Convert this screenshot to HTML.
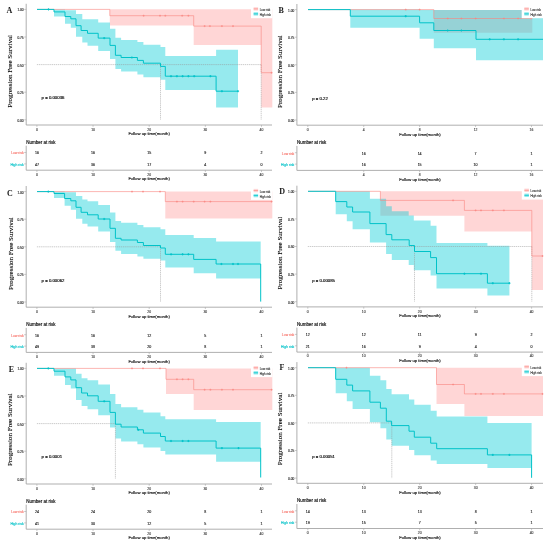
<!DOCTYPE html><html><head><meta charset="utf-8"><style>html,body{margin:0;padding:0;background:#fff;width:550px;height:544px;overflow:hidden}svg{display:block;filter:blur(0.3px)}</style></head><body>
<svg width="550" height="544" viewBox="0 0 550 544">
<rect width="550" height="544" fill="#fff"/>
<g>
<path d="M109.8 9.2 H193.7 V9.2 H261.2 V9.2 H272.3 V107.4 H261.2 V45 H193.7 V25.4 H109.8 Z" fill="rgba(255,120,120,0.30)"/>
<path d="M54 9.4 H65 V10.3 H70.8 V10.3 H76 V13.9 H82.3 V19.3 H87.5 V19.3 H98.2 V22.5 H110 V28.8 H115.4 V37.7 H121.1 V40 H137.4 V41.9 H143.4 V44.7 H160.5 V47 H165.3 V56.1 H216.1 V49.7 H238 V107.4 H216.1 V90.1 H165.3 V79.7 H160.5 V77.2 H143.4 V74.6 H137.4 V71.5 H121.1 V68.9 H115.4 V59.1 H110 V51.1 H98.2 V45.7 H87.5 V42.5 H82.3 V36.7 H76 V27.7 H70.8 V23.8 H65 V16.5 H54 Z" fill="rgba(0,204,214,0.41)"/>
<line x1="36.9" y1="64.6" x2="261.2" y2="64.6" stroke="#999" stroke-width="0.5" stroke-dasharray="1.4,0.7"/>
<line x1="160.5" y1="64.6" x2="160.5" y2="119.8" stroke="#999" stroke-width="0.5" stroke-dasharray="1.4,0.7"/>
<line x1="261.2" y1="64.6" x2="261.2" y2="119.8" stroke="#999" stroke-width="0.5" stroke-dasharray="1.4,0.7"/>
<path d="M37 9.4 H109.8 V15.7 H193.7 V26.1 H261.2 V72.7 H272.3" fill="none" stroke="#F9857F" stroke-width="0.6"/>
<path d="M37 9.4 H54 V11.9 H65 V16.5 H70.8 V18.8 H76 V25.7 H81.1 V30.5 H87.5 V33.3 H98.2 V38.1 H110 V45.4 H115.4 V55.3 H121.1 V57.5 H137.4 V60.4 H143.4 V63.2 H160.5 V66.4 H165.3 V76.2 H216.1 V91.2 H238" fill="none" stroke="#00C2C8" stroke-width="1.0"/>
<path d="M142.6 15.7H144.6M143.6 14.7V16.7" stroke="#F9857F" stroke-width="0.6"/>
<path d="M159 15.7H161M160 14.7V16.7" stroke="#F9857F" stroke-width="0.6"/>
<path d="M164.3 15.7H166.3M165.3 14.7V16.7" stroke="#F9857F" stroke-width="0.6"/>
<path d="M181.2 15.7H183.2M182.2 14.7V16.7" stroke="#F9857F" stroke-width="0.6"/>
<path d="M187.4 15.7H189.4M188.4 14.7V16.7" stroke="#F9857F" stroke-width="0.6"/>
<path d="M203.6 26.1H205.6M204.6 25.1V27.1" stroke="#F9857F" stroke-width="0.6"/>
<path d="M208.9 26.1H210.9M209.9 25.1V27.1" stroke="#F9857F" stroke-width="0.6"/>
<path d="M220.9 26.1H222.9M221.9 25.1V27.1" stroke="#F9857F" stroke-width="0.6"/>
<path d="M232 26.1H234M233 25.1V27.1" stroke="#F9857F" stroke-width="0.6"/>
<path d="M270.5 72.7H272.5M271.5 71.7V73.7" stroke="#F9857F" stroke-width="0.6"/>
<path d="M47.4 9.4H49.6M48.5 8.3V10.5" stroke="#00C2C8" stroke-width="0.9"/>
<path d="M103.1 38.1H105.3M104.2 37V39.2" stroke="#00C2C8" stroke-width="0.9"/>
<path d="M130.8 57.5H133M131.9 56.4V58.6" stroke="#00C2C8" stroke-width="0.9"/>
<path d="M169.9 76.2H172.1M171 75.1V77.3" stroke="#00C2C8" stroke-width="0.9"/>
<path d="M175.8 76.2H178M176.9 75.1V77.3" stroke="#00C2C8" stroke-width="0.9"/>
<path d="M181.5 76.2H183.7M182.6 75.1V77.3" stroke="#00C2C8" stroke-width="0.9"/>
<path d="M187.3 76.2H189.5M188.4 75.1V77.3" stroke="#00C2C8" stroke-width="0.9"/>
<path d="M193.1 76.2H195.3M194.2 75.1V77.3" stroke="#00C2C8" stroke-width="0.9"/>
<path d="M209.3 76.2H211.5M210.4 75.1V77.3" stroke="#00C2C8" stroke-width="0.9"/>
<path d="M220.8 91.2H223M221.9 90.1V92.3" stroke="#00C2C8" stroke-width="0.9"/>
<path d="M236.9 91.2H239.1M238 90.1V92.3" stroke="#00C2C8" stroke-width="0.9"/>
<line x1="26.2" y1="3.8" x2="26.2" y2="125" stroke="#a6a6a6" stroke-width="0.9" />
<line x1="26.2" y1="125" x2="272" y2="125" stroke="#a6a6a6" stroke-width="0.9" />
<line x1="24.2" y1="9.4" x2="26.2" y2="9.4" stroke="#a6a6a6" stroke-width="0.6" />
<text x="23.6" y="10.3" font-size="3.2" text-anchor="end" dominant-baseline="central" fill="#222" font-family="Liberation Sans" stroke="#222" stroke-width="0.11" >1.00</text>
<line x1="24.2" y1="37" x2="26.2" y2="37" stroke="#a6a6a6" stroke-width="0.6" />
<text x="23.6" y="37.9" font-size="3.2" text-anchor="end" dominant-baseline="central" fill="#222" font-family="Liberation Sans" stroke="#222" stroke-width="0.11" >0.75</text>
<line x1="24.2" y1="64.6" x2="26.2" y2="64.6" stroke="#a6a6a6" stroke-width="0.6" />
<text x="23.6" y="65.5" font-size="3.2" text-anchor="end" dominant-baseline="central" fill="#222" font-family="Liberation Sans" stroke="#222" stroke-width="0.11" >0.50</text>
<line x1="24.2" y1="92.2" x2="26.2" y2="92.2" stroke="#a6a6a6" stroke-width="0.6" />
<text x="23.6" y="93.1" font-size="3.2" text-anchor="end" dominant-baseline="central" fill="#222" font-family="Liberation Sans" stroke="#222" stroke-width="0.11" >0.25</text>
<line x1="24.2" y1="119.8" x2="26.2" y2="119.8" stroke="#a6a6a6" stroke-width="0.6" />
<text x="23.6" y="120.7" font-size="3.2" text-anchor="end" dominant-baseline="central" fill="#222" font-family="Liberation Sans" stroke="#222" stroke-width="0.11" >0.00</text>
<line x1="36.9" y1="125" x2="36.9" y2="126.8" stroke="#a6a6a6" stroke-width="0.6" />
<text x="36.9" y="129.7" font-size="3.4" text-anchor="middle" dominant-baseline="central" fill="#444" font-family="Liberation Sans" stroke="#444" stroke-width="0.12" >0</text>
<line x1="93.05" y1="125" x2="93.05" y2="126.8" stroke="#a6a6a6" stroke-width="0.6" />
<text x="93.05" y="129.7" font-size="3.4" text-anchor="middle" dominant-baseline="central" fill="#444" font-family="Liberation Sans" stroke="#444" stroke-width="0.12" >10</text>
<line x1="149.2" y1="125" x2="149.2" y2="126.8" stroke="#a6a6a6" stroke-width="0.6" />
<text x="149.2" y="129.7" font-size="3.4" text-anchor="middle" dominant-baseline="central" fill="#444" font-family="Liberation Sans" stroke="#444" stroke-width="0.12" >20</text>
<line x1="205.35" y1="125" x2="205.35" y2="126.8" stroke="#a6a6a6" stroke-width="0.6" />
<text x="205.35" y="129.7" font-size="3.4" text-anchor="middle" dominant-baseline="central" fill="#444" font-family="Liberation Sans" stroke="#444" stroke-width="0.12" >30</text>
<line x1="261.5" y1="125" x2="261.5" y2="126.8" stroke="#a6a6a6" stroke-width="0.6" />
<text x="261.5" y="129.7" font-size="3.4" text-anchor="middle" dominant-baseline="central" fill="#444" font-family="Liberation Sans" stroke="#444" stroke-width="0.12" >40</text>
<text x="149.1" y="133.8" font-size="4.2" text-anchor="middle" dominant-baseline="central" fill="#111" font-family="Liberation Sans" stroke="#111" stroke-width="0.15" >Follow up time(month)</text>
<text x="6.5" y="10.8" font-size="8.0" text-anchor="start" dominant-baseline="central" fill="#1a1a1a" font-family="Liberation Serif" font-weight="bold">A</text>
<text x="0" y="0" transform="translate(10.3,71.3) rotate(-90)" font-size="7.0" text-anchor="middle" dominant-baseline="central" fill="#000" stroke="#000" stroke-width="0.1" font-family="Liberation Serif">Progression Free Survival</text>
<text x="41.6" y="97.9" font-size="4.3" text-anchor="start" dominant-baseline="central" fill="#000" font-family="Liberation Sans" stroke="#000" stroke-width="0.15" >p = 0.00036</text>
<rect x="251" y="3.5" width="21.4" height="14.7" fill="#fff"/>
<rect x="253.6" y="7.2" width="4.5" height="3.4" fill="rgba(255,120,120,0.30)"/>
<line x1="253.6" y1="8.9" x2="258.1" y2="8.9" stroke="#F8766D" stroke-width="0.6" />
<text x="259.7" y="9.8" font-size="2.9" text-anchor="start" dominant-baseline="central" fill="#333" font-family="Liberation Sans" stroke="#333" stroke-width="0.1" >Low risk</text>
<rect x="253.6" y="12.2" width="4.5" height="3.4" fill="rgba(0,204,214,0.41)"/>
<line x1="253.6" y1="13.9" x2="258.1" y2="13.9" stroke="#00C2C8" stroke-width="0.8" />
<text x="259.7" y="14.8" font-size="2.9" text-anchor="start" dominant-baseline="central" fill="#333" font-family="Liberation Sans" stroke="#333" stroke-width="0.1" >High risk</text>
<text x="26.2" y="142.4" font-size="4.5" text-anchor="start" dominant-baseline="central" fill="#111" font-family="Liberation Sans" stroke="#111" stroke-width="0.16" >Number at risk</text>
<line x1="26.2" y1="145.7" x2="26.2" y2="170.2" stroke="#a6a6a6" stroke-width="0.9" />
<line x1="26.2" y1="170.2" x2="272" y2="170.2" stroke="#a6a6a6" stroke-width="0.9" />
<line x1="24.2" y1="152.5" x2="26.2" y2="152.5" stroke="#a6a6a6" stroke-width="0.6" />
<text x="23.6" y="153.4" font-size="3.4" text-anchor="end" dominant-baseline="central" fill="#F8766D" font-family="Liberation Sans" stroke="#F8766D" stroke-width="0.12" >Low risk</text>
<line x1="24.2" y1="163.9" x2="26.2" y2="163.9" stroke="#a6a6a6" stroke-width="0.6" />
<text x="23.6" y="164.8" font-size="3.4" text-anchor="end" dominant-baseline="central" fill="#00C2C8" font-family="Liberation Sans" stroke="#00C2C8" stroke-width="0.12" >High risk</text>
<line x1="36.9" y1="170.2" x2="36.9" y2="172" stroke="#a6a6a6" stroke-width="0.6" />
<text x="36.9" y="174.5" font-size="3.4" text-anchor="middle" dominant-baseline="central" fill="#444" font-family="Liberation Sans" stroke="#444" stroke-width="0.12" >0</text>
<text x="36.9" y="153.4" font-size="3.6" text-anchor="middle" dominant-baseline="central" fill="#222" font-family="Liberation Sans" stroke="#222" stroke-width="0.13" >16</text>
<text x="36.9" y="164.8" font-size="3.6" text-anchor="middle" dominant-baseline="central" fill="#222" font-family="Liberation Sans" stroke="#222" stroke-width="0.13" >47</text>
<line x1="93.05" y1="170.2" x2="93.05" y2="172" stroke="#a6a6a6" stroke-width="0.6" />
<text x="93.05" y="174.5" font-size="3.4" text-anchor="middle" dominant-baseline="central" fill="#444" font-family="Liberation Sans" stroke="#444" stroke-width="0.12" >10</text>
<text x="93.05" y="153.4" font-size="3.6" text-anchor="middle" dominant-baseline="central" fill="#222" font-family="Liberation Sans" stroke="#222" stroke-width="0.13" >16</text>
<text x="93.05" y="164.8" font-size="3.6" text-anchor="middle" dominant-baseline="central" fill="#222" font-family="Liberation Sans" stroke="#222" stroke-width="0.13" >36</text>
<line x1="149.2" y1="170.2" x2="149.2" y2="172" stroke="#a6a6a6" stroke-width="0.6" />
<text x="149.2" y="174.5" font-size="3.4" text-anchor="middle" dominant-baseline="central" fill="#444" font-family="Liberation Sans" stroke="#444" stroke-width="0.12" >20</text>
<text x="149.2" y="153.4" font-size="3.6" text-anchor="middle" dominant-baseline="central" fill="#222" font-family="Liberation Sans" stroke="#222" stroke-width="0.13" >15</text>
<text x="149.2" y="164.8" font-size="3.6" text-anchor="middle" dominant-baseline="central" fill="#222" font-family="Liberation Sans" stroke="#222" stroke-width="0.13" >17</text>
<line x1="205.35" y1="170.2" x2="205.35" y2="172" stroke="#a6a6a6" stroke-width="0.6" />
<text x="205.35" y="174.5" font-size="3.4" text-anchor="middle" dominant-baseline="central" fill="#444" font-family="Liberation Sans" stroke="#444" stroke-width="0.12" >30</text>
<text x="205.35" y="153.4" font-size="3.6" text-anchor="middle" dominant-baseline="central" fill="#222" font-family="Liberation Sans" stroke="#222" stroke-width="0.13" >9</text>
<text x="205.35" y="164.8" font-size="3.6" text-anchor="middle" dominant-baseline="central" fill="#222" font-family="Liberation Sans" stroke="#222" stroke-width="0.13" >4</text>
<line x1="261.5" y1="170.2" x2="261.5" y2="172" stroke="#a6a6a6" stroke-width="0.6" />
<text x="261.5" y="174.5" font-size="3.4" text-anchor="middle" dominant-baseline="central" fill="#444" font-family="Liberation Sans" stroke="#444" stroke-width="0.12" >40</text>
<text x="261.5" y="153.4" font-size="3.6" text-anchor="middle" dominant-baseline="central" fill="#222" font-family="Liberation Sans" stroke="#222" stroke-width="0.13" >2</text>
<text x="261.5" y="164.8" font-size="3.6" text-anchor="middle" dominant-baseline="central" fill="#222" font-family="Liberation Sans" stroke="#222" stroke-width="0.13" >0</text>
<text x="149.1" y="178.8" font-size="4.2" text-anchor="middle" dominant-baseline="central" fill="#111" font-family="Liberation Sans" stroke="#111" stroke-width="0.15" >Follow up time(month)</text>
</g>
<g>
<path d="M433.8 9.9 H532.3 V32.7 H433.8 Z" fill="rgba(255,120,120,0.30)"/>
<path d="M350.3 9.6 H419.6 V9.9 H433.8 V9.9 H476 V9.9 H543 V60.3 H476 V48.2 H433.8 V38.8 H419.6 V27.7 H350.3 Z" fill="rgba(0,204,214,0.41)"/>
<path d="M308 9.6 H433.8 V18.5 H532.3" fill="none" stroke="#F9857F" stroke-width="0.6"/>
<path d="M308 9.6 H350.3 V16.2 H419.6 V22.8 H433.8 V30.5 H476 V39.3 H543" fill="none" stroke="#00C2C8" stroke-width="1.0"/>
<path d="M404.7 9.6H406.7M405.7 8.6V10.6" stroke="#F9857F" stroke-width="0.6"/>
<path d="M418.6 9.6H420.6M419.6 8.6V10.6" stroke="#F9857F" stroke-width="0.6"/>
<path d="M446.7 18.5H448.7M447.7 17.5V19.5" stroke="#F9857F" stroke-width="0.6"/>
<path d="M460.4 18.5H462.4M461.4 17.5V19.5" stroke="#F9857F" stroke-width="0.6"/>
<path d="M474.6 18.5H476.6M475.6 17.5V19.5" stroke="#F9857F" stroke-width="0.6"/>
<path d="M502.9 18.5H504.9M503.9 17.5V19.5" stroke="#F9857F" stroke-width="0.6"/>
<path d="M517.1 18.5H519.1M518.1 17.5V19.5" stroke="#F9857F" stroke-width="0.6"/>
<path d="M530.1 18.5H532.1M531.1 17.5V19.5" stroke="#F9857F" stroke-width="0.6"/>
<path d="M404.6 16.2H406.8M405.7 15.1V17.3" stroke="#00C2C8" stroke-width="0.9"/>
<path d="M446.6 30.5H448.8M447.7 29.4V31.6" stroke="#00C2C8" stroke-width="0.9"/>
<path d="M460.3 30.5H462.5M461.4 29.4V31.6" stroke="#00C2C8" stroke-width="0.9"/>
<path d="M488.6 39.3H490.8M489.7 38.2V40.4" stroke="#00C2C8" stroke-width="0.9"/>
<path d="M502.8 39.3H505M503.9 38.2V40.4" stroke="#00C2C8" stroke-width="0.9"/>
<path d="M517 39.3H519.2M518.1 38.2V40.4" stroke="#00C2C8" stroke-width="0.9"/>
<line x1="296.9" y1="4" x2="296.9" y2="125.2" stroke="#a6a6a6" stroke-width="0.9" />
<line x1="296.9" y1="125.2" x2="543" y2="125.2" stroke="#a6a6a6" stroke-width="0.9" />
<line x1="294.9" y1="9.6" x2="296.9" y2="9.6" stroke="#a6a6a6" stroke-width="0.6" />
<text x="294.3" y="10.5" font-size="3.2" text-anchor="end" dominant-baseline="central" fill="#222" font-family="Liberation Sans" stroke="#222" stroke-width="0.11" >1.00</text>
<line x1="294.9" y1="37.2" x2="296.9" y2="37.2" stroke="#a6a6a6" stroke-width="0.6" />
<text x="294.3" y="38.1" font-size="3.2" text-anchor="end" dominant-baseline="central" fill="#222" font-family="Liberation Sans" stroke="#222" stroke-width="0.11" >0.75</text>
<line x1="294.9" y1="64.8" x2="296.9" y2="64.8" stroke="#a6a6a6" stroke-width="0.6" />
<text x="294.3" y="65.7" font-size="3.2" text-anchor="end" dominant-baseline="central" fill="#222" font-family="Liberation Sans" stroke="#222" stroke-width="0.11" >0.50</text>
<line x1="294.9" y1="92.4" x2="296.9" y2="92.4" stroke="#a6a6a6" stroke-width="0.6" />
<text x="294.3" y="93.3" font-size="3.2" text-anchor="end" dominant-baseline="central" fill="#222" font-family="Liberation Sans" stroke="#222" stroke-width="0.11" >0.25</text>
<line x1="294.9" y1="120" x2="296.9" y2="120" stroke="#a6a6a6" stroke-width="0.6" />
<text x="294.3" y="120.9" font-size="3.2" text-anchor="end" dominant-baseline="central" fill="#222" font-family="Liberation Sans" stroke="#222" stroke-width="0.11" >0.00</text>
<line x1="307.8" y1="125.2" x2="307.8" y2="127" stroke="#a6a6a6" stroke-width="0.6" />
<text x="307.8" y="129.9" font-size="3.4" text-anchor="middle" dominant-baseline="central" fill="#444" font-family="Liberation Sans" stroke="#444" stroke-width="0.12" >0</text>
<line x1="363.72" y1="125.2" x2="363.72" y2="127" stroke="#a6a6a6" stroke-width="0.6" />
<text x="363.72" y="129.9" font-size="3.4" text-anchor="middle" dominant-baseline="central" fill="#444" font-family="Liberation Sans" stroke="#444" stroke-width="0.12" >4</text>
<line x1="419.64" y1="125.2" x2="419.64" y2="127" stroke="#a6a6a6" stroke-width="0.6" />
<text x="419.64" y="129.9" font-size="3.4" text-anchor="middle" dominant-baseline="central" fill="#444" font-family="Liberation Sans" stroke="#444" stroke-width="0.12" >8</text>
<line x1="475.56" y1="125.2" x2="475.56" y2="127" stroke="#a6a6a6" stroke-width="0.6" />
<text x="475.56" y="129.9" font-size="3.4" text-anchor="middle" dominant-baseline="central" fill="#444" font-family="Liberation Sans" stroke="#444" stroke-width="0.12" >12</text>
<line x1="531.48" y1="125.2" x2="531.48" y2="127" stroke="#a6a6a6" stroke-width="0.6" />
<text x="531.48" y="129.9" font-size="3.4" text-anchor="middle" dominant-baseline="central" fill="#444" font-family="Liberation Sans" stroke="#444" stroke-width="0.12" >16</text>
<text x="419.95" y="134" font-size="4.2" text-anchor="middle" dominant-baseline="central" fill="#111" font-family="Liberation Sans" stroke="#111" stroke-width="0.15" >Follow up time(month)</text>
<text x="278.5" y="10.55" font-size="8.0" text-anchor="start" dominant-baseline="central" fill="#1a1a1a" font-family="Liberation Serif" font-weight="bold">B</text>
<text x="0" y="0" transform="translate(280.1,71.6) rotate(-90)" font-size="7.0" text-anchor="middle" dominant-baseline="central" fill="#000" stroke="#000" stroke-width="0.1" font-family="Liberation Serif">Progression Free Survival</text>
<text x="312.2" y="98.5" font-size="4.3" text-anchor="start" dominant-baseline="central" fill="#000" font-family="Liberation Sans" stroke="#000" stroke-width="0.15" >p = 0.22</text>
<rect x="521.7" y="3.5" width="21.4" height="14.7" fill="#fff"/>
<rect x="524.3" y="7.2" width="4.5" height="3.4" fill="rgba(255,120,120,0.30)"/>
<line x1="524.3" y1="8.9" x2="528.8" y2="8.9" stroke="#F8766D" stroke-width="0.6" />
<text x="530.4" y="9.8" font-size="2.9" text-anchor="start" dominant-baseline="central" fill="#333" font-family="Liberation Sans" stroke="#333" stroke-width="0.1" >Low risk</text>
<rect x="524.3" y="12.2" width="4.5" height="3.4" fill="rgba(0,204,214,0.41)"/>
<line x1="524.3" y1="13.9" x2="528.8" y2="13.9" stroke="#00C2C8" stroke-width="0.8" />
<text x="530.4" y="14.8" font-size="2.9" text-anchor="start" dominant-baseline="central" fill="#333" font-family="Liberation Sans" stroke="#333" stroke-width="0.1" >High risk</text>
<text x="296.9" y="142.6" font-size="4.5" text-anchor="start" dominant-baseline="central" fill="#111" font-family="Liberation Sans" stroke="#111" stroke-width="0.16" >Number at risk</text>
<line x1="296.9" y1="145.9" x2="296.9" y2="170.4" stroke="#a6a6a6" stroke-width="0.9" />
<line x1="296.9" y1="170.4" x2="543" y2="170.4" stroke="#a6a6a6" stroke-width="0.9" />
<line x1="294.9" y1="152.7" x2="296.9" y2="152.7" stroke="#a6a6a6" stroke-width="0.6" />
<text x="294.3" y="153.6" font-size="3.4" text-anchor="end" dominant-baseline="central" fill="#F8766D" font-family="Liberation Sans" stroke="#F8766D" stroke-width="0.12" >Low risk</text>
<line x1="294.9" y1="164.1" x2="296.9" y2="164.1" stroke="#a6a6a6" stroke-width="0.6" />
<text x="294.3" y="165" font-size="3.4" text-anchor="end" dominant-baseline="central" fill="#00C2C8" font-family="Liberation Sans" stroke="#00C2C8" stroke-width="0.12" >High risk</text>
<line x1="363.72" y1="170.4" x2="363.72" y2="172.2" stroke="#a6a6a6" stroke-width="0.6" />
<text x="363.72" y="174.7" font-size="3.4" text-anchor="middle" dominant-baseline="central" fill="#444" font-family="Liberation Sans" stroke="#444" stroke-width="0.12" >4</text>
<text x="363.72" y="153.6" font-size="3.6" text-anchor="middle" dominant-baseline="central" fill="#222" font-family="Liberation Sans" stroke="#222" stroke-width="0.13" >16</text>
<text x="363.72" y="165" font-size="3.6" text-anchor="middle" dominant-baseline="central" fill="#222" font-family="Liberation Sans" stroke="#222" stroke-width="0.13" >16</text>
<line x1="419.64" y1="170.4" x2="419.64" y2="172.2" stroke="#a6a6a6" stroke-width="0.6" />
<text x="419.64" y="174.7" font-size="3.4" text-anchor="middle" dominant-baseline="central" fill="#444" font-family="Liberation Sans" stroke="#444" stroke-width="0.12" >8</text>
<text x="419.64" y="153.6" font-size="3.6" text-anchor="middle" dominant-baseline="central" fill="#222" font-family="Liberation Sans" stroke="#222" stroke-width="0.13" >14</text>
<text x="419.64" y="165" font-size="3.6" text-anchor="middle" dominant-baseline="central" fill="#222" font-family="Liberation Sans" stroke="#222" stroke-width="0.13" >15</text>
<line x1="475.56" y1="170.4" x2="475.56" y2="172.2" stroke="#a6a6a6" stroke-width="0.6" />
<text x="475.56" y="174.7" font-size="3.4" text-anchor="middle" dominant-baseline="central" fill="#444" font-family="Liberation Sans" stroke="#444" stroke-width="0.12" >12</text>
<text x="475.56" y="153.6" font-size="3.6" text-anchor="middle" dominant-baseline="central" fill="#222" font-family="Liberation Sans" stroke="#222" stroke-width="0.13" >7</text>
<text x="475.56" y="165" font-size="3.6" text-anchor="middle" dominant-baseline="central" fill="#222" font-family="Liberation Sans" stroke="#222" stroke-width="0.13" >10</text>
<line x1="531.48" y1="170.4" x2="531.48" y2="172.2" stroke="#a6a6a6" stroke-width="0.6" />
<text x="531.48" y="174.7" font-size="3.4" text-anchor="middle" dominant-baseline="central" fill="#444" font-family="Liberation Sans" stroke="#444" stroke-width="0.12" >16</text>
<text x="531.48" y="153.6" font-size="3.6" text-anchor="middle" dominant-baseline="central" fill="#222" font-family="Liberation Sans" stroke="#222" stroke-width="0.13" >1</text>
<text x="531.48" y="165" font-size="3.6" text-anchor="middle" dominant-baseline="central" fill="#222" font-family="Liberation Sans" stroke="#222" stroke-width="0.13" >1</text>
<text x="419.95" y="179" font-size="4.2" text-anchor="middle" dominant-baseline="central" fill="#111" font-family="Liberation Sans" stroke="#111" stroke-width="0.15" >Follow up time(month)</text>
</g>
<g>
<path d="M165.3 191.6 H272.3 V218.5 H165.3 Z" fill="rgba(255,120,120,0.30)"/>
<path d="M54 191.6 H64.6 V192.3 H70.8 V192.3 H76 V195.9 H82.3 V199.4 H87.5 V201.3 H98.2 V204.9 H110 V212.4 H115.4 V220.9 H121.1 V222.8 H137.4 V225.1 H143.4 V227.3 H160.5 V229.2 H165.3 V235.1 H193.7 V238.1 H216.1 V241.6 H260.7 V278.5 H216.1 V273.2 H193.7 V267.5 H165.3 V260.5 H160.5 V258.7 H143.4 V256.5 H137.4 V254 H121.1 V250.8 H115.4 V241.9 H110 V231.5 H98.2 V226.4 H87.5 V223.8 H82.3 V218.7 H76 V209.7 H70.8 V205.8 H64.6 V198.1 H54 Z" fill="rgba(0,204,214,0.41)"/>
<line x1="36.9" y1="246.8" x2="160.5" y2="246.8" stroke="#999" stroke-width="0.5" stroke-dasharray="1.4,0.7"/>
<line x1="160.5" y1="246.8" x2="160.5" y2="302" stroke="#999" stroke-width="0.5" stroke-dasharray="1.4,0.7"/>
<path d="M37 191.6 H165.3 V201.6 H272.3" fill="none" stroke="#F9857F" stroke-width="0.6"/>
<path d="M37 191.6 H54 V193.5 H64.6 V198.5 H70.8 V200.8 H76 V207.3 H81.1 V212.3 H87.5 V214.8 H98.2 V219 H110 V228.3 H115.4 V238.3 H121.1 V240 H137.4 V242.5 H143.4 V245.5 H160.5 V248 H165.3 V254.3 H193.7 V259.4 H216.1 V264 H260.7 V301.6 H260.7" fill="none" stroke="#00C2C8" stroke-width="1.0"/>
<path d="M131 191.6H133M132 190.6V192.6" stroke="#F9857F" stroke-width="0.6"/>
<path d="M142 191.6H144M143 190.6V192.6" stroke="#F9857F" stroke-width="0.6"/>
<path d="M159 191.6H161M160 190.6V192.6" stroke="#F9857F" stroke-width="0.6"/>
<path d="M175.9 201.6H177.9M176.9 200.6V202.6" stroke="#F9857F" stroke-width="0.6"/>
<path d="M181.6 201.6H183.6M182.6 200.6V202.6" stroke="#F9857F" stroke-width="0.6"/>
<path d="M192.7 201.6H194.7M193.7 200.6V202.6" stroke="#F9857F" stroke-width="0.6"/>
<path d="M203.6 201.6H205.6M204.6 200.6V202.6" stroke="#F9857F" stroke-width="0.6"/>
<path d="M209.4 201.6H211.4M210.4 200.6V202.6" stroke="#F9857F" stroke-width="0.6"/>
<path d="M270.5 201.6H272.5M271.5 200.6V202.6" stroke="#F9857F" stroke-width="0.6"/>
<path d="M47.2 191.6H49.4M48.3 190.5V192.7" stroke="#00C2C8" stroke-width="0.9"/>
<path d="M103.1 219H105.3M104.2 217.9V220.1" stroke="#00C2C8" stroke-width="0.9"/>
<path d="M170 254.3H172.2M171.1 253.2V255.4" stroke="#00C2C8" stroke-width="0.9"/>
<path d="M181.5 254.3H183.7M182.6 253.2V255.4" stroke="#00C2C8" stroke-width="0.9"/>
<path d="M187.3 254.3H189.5M188.4 253.2V255.4" stroke="#00C2C8" stroke-width="0.9"/>
<path d="M220.3 264H222.5M221.4 262.9V265.1" stroke="#00C2C8" stroke-width="0.9"/>
<path d="M231.9 264H234.1M233 262.9V265.1" stroke="#00C2C8" stroke-width="0.9"/>
<path d="M236.9 264H239.1M238 262.9V265.1" stroke="#00C2C8" stroke-width="0.9"/>
<line x1="26.2" y1="186" x2="26.2" y2="307.2" stroke="#a6a6a6" stroke-width="0.9" />
<line x1="26.2" y1="307.2" x2="272" y2="307.2" stroke="#a6a6a6" stroke-width="0.9" />
<line x1="24.2" y1="191.6" x2="26.2" y2="191.6" stroke="#a6a6a6" stroke-width="0.6" />
<text x="23.6" y="192.5" font-size="3.2" text-anchor="end" dominant-baseline="central" fill="#222" font-family="Liberation Sans" stroke="#222" stroke-width="0.11" >1.00</text>
<line x1="24.2" y1="219.2" x2="26.2" y2="219.2" stroke="#a6a6a6" stroke-width="0.6" />
<text x="23.6" y="220.1" font-size="3.2" text-anchor="end" dominant-baseline="central" fill="#222" font-family="Liberation Sans" stroke="#222" stroke-width="0.11" >0.75</text>
<line x1="24.2" y1="246.8" x2="26.2" y2="246.8" stroke="#a6a6a6" stroke-width="0.6" />
<text x="23.6" y="247.7" font-size="3.2" text-anchor="end" dominant-baseline="central" fill="#222" font-family="Liberation Sans" stroke="#222" stroke-width="0.11" >0.50</text>
<line x1="24.2" y1="274.4" x2="26.2" y2="274.4" stroke="#a6a6a6" stroke-width="0.6" />
<text x="23.6" y="275.3" font-size="3.2" text-anchor="end" dominant-baseline="central" fill="#222" font-family="Liberation Sans" stroke="#222" stroke-width="0.11" >0.25</text>
<line x1="24.2" y1="302" x2="26.2" y2="302" stroke="#a6a6a6" stroke-width="0.6" />
<text x="23.6" y="302.9" font-size="3.2" text-anchor="end" dominant-baseline="central" fill="#222" font-family="Liberation Sans" stroke="#222" stroke-width="0.11" >0.00</text>
<line x1="36.9" y1="307.2" x2="36.9" y2="309" stroke="#a6a6a6" stroke-width="0.6" />
<text x="36.9" y="311.9" font-size="3.4" text-anchor="middle" dominant-baseline="central" fill="#444" font-family="Liberation Sans" stroke="#444" stroke-width="0.12" >0</text>
<line x1="93.05" y1="307.2" x2="93.05" y2="309" stroke="#a6a6a6" stroke-width="0.6" />
<text x="93.05" y="311.9" font-size="3.4" text-anchor="middle" dominant-baseline="central" fill="#444" font-family="Liberation Sans" stroke="#444" stroke-width="0.12" >10</text>
<line x1="149.2" y1="307.2" x2="149.2" y2="309" stroke="#a6a6a6" stroke-width="0.6" />
<text x="149.2" y="311.9" font-size="3.4" text-anchor="middle" dominant-baseline="central" fill="#444" font-family="Liberation Sans" stroke="#444" stroke-width="0.12" >20</text>
<line x1="205.35" y1="307.2" x2="205.35" y2="309" stroke="#a6a6a6" stroke-width="0.6" />
<text x="205.35" y="311.9" font-size="3.4" text-anchor="middle" dominant-baseline="central" fill="#444" font-family="Liberation Sans" stroke="#444" stroke-width="0.12" >30</text>
<line x1="261.5" y1="307.2" x2="261.5" y2="309" stroke="#a6a6a6" stroke-width="0.6" />
<text x="261.5" y="311.9" font-size="3.4" text-anchor="middle" dominant-baseline="central" fill="#444" font-family="Liberation Sans" stroke="#444" stroke-width="0.12" >40</text>
<text x="149.1" y="316" font-size="4.2" text-anchor="middle" dominant-baseline="central" fill="#111" font-family="Liberation Sans" stroke="#111" stroke-width="0.15" >Follow up time(month)</text>
<text x="6.9" y="193.5" font-size="8.0" text-anchor="start" dominant-baseline="central" fill="#1a1a1a" font-family="Liberation Serif" font-weight="bold">C</text>
<text x="0" y="0" transform="translate(10.8,253.6) rotate(-90)" font-size="7.0" text-anchor="middle" dominant-baseline="central" fill="#000" stroke="#000" stroke-width="0.1" font-family="Liberation Serif">Progression Free Survival</text>
<text x="41.6" y="280.6" font-size="4.3" text-anchor="start" dominant-baseline="central" fill="#000" font-family="Liberation Sans" stroke="#000" stroke-width="0.15" >p = 0.00062</text>
<rect x="251" y="185.2" width="21.4" height="14.7" fill="#fff"/>
<rect x="253.6" y="188.9" width="4.5" height="3.4" fill="rgba(255,120,120,0.30)"/>
<line x1="253.6" y1="190.6" x2="258.1" y2="190.6" stroke="#F8766D" stroke-width="0.6" />
<text x="259.7" y="191.5" font-size="2.9" text-anchor="start" dominant-baseline="central" fill="#333" font-family="Liberation Sans" stroke="#333" stroke-width="0.1" >Low risk</text>
<rect x="253.6" y="193.9" width="4.5" height="3.4" fill="rgba(0,204,214,0.41)"/>
<line x1="253.6" y1="195.6" x2="258.1" y2="195.6" stroke="#00C2C8" stroke-width="0.8" />
<text x="259.7" y="196.5" font-size="2.9" text-anchor="start" dominant-baseline="central" fill="#333" font-family="Liberation Sans" stroke="#333" stroke-width="0.1" >High risk</text>
<text x="26.2" y="324.6" font-size="4.5" text-anchor="start" dominant-baseline="central" fill="#111" font-family="Liberation Sans" stroke="#111" stroke-width="0.16" >Number at risk</text>
<line x1="26.2" y1="327.9" x2="26.2" y2="352.4" stroke="#a6a6a6" stroke-width="0.9" />
<line x1="26.2" y1="352.4" x2="272" y2="352.4" stroke="#a6a6a6" stroke-width="0.9" />
<line x1="24.2" y1="334.7" x2="26.2" y2="334.7" stroke="#a6a6a6" stroke-width="0.6" />
<text x="23.6" y="335.6" font-size="3.4" text-anchor="end" dominant-baseline="central" fill="#F8766D" font-family="Liberation Sans" stroke="#F8766D" stroke-width="0.12" >Low risk</text>
<line x1="24.2" y1="346.1" x2="26.2" y2="346.1" stroke="#a6a6a6" stroke-width="0.6" />
<text x="23.6" y="347" font-size="3.4" text-anchor="end" dominant-baseline="central" fill="#00C2C8" font-family="Liberation Sans" stroke="#00C2C8" stroke-width="0.12" >High risk</text>
<line x1="36.9" y1="352.4" x2="36.9" y2="354.2" stroke="#a6a6a6" stroke-width="0.6" />
<text x="36.9" y="356.7" font-size="3.4" text-anchor="middle" dominant-baseline="central" fill="#444" font-family="Liberation Sans" stroke="#444" stroke-width="0.12" >0</text>
<text x="36.9" y="335.6" font-size="3.6" text-anchor="middle" dominant-baseline="central" fill="#222" font-family="Liberation Sans" stroke="#222" stroke-width="0.13" >16</text>
<text x="36.9" y="347" font-size="3.6" text-anchor="middle" dominant-baseline="central" fill="#222" font-family="Liberation Sans" stroke="#222" stroke-width="0.13" >49</text>
<line x1="93.05" y1="352.4" x2="93.05" y2="354.2" stroke="#a6a6a6" stroke-width="0.6" />
<text x="93.05" y="356.7" font-size="3.4" text-anchor="middle" dominant-baseline="central" fill="#444" font-family="Liberation Sans" stroke="#444" stroke-width="0.12" >10</text>
<text x="93.05" y="335.6" font-size="3.6" text-anchor="middle" dominant-baseline="central" fill="#222" font-family="Liberation Sans" stroke="#222" stroke-width="0.13" >16</text>
<text x="93.05" y="347" font-size="3.6" text-anchor="middle" dominant-baseline="central" fill="#222" font-family="Liberation Sans" stroke="#222" stroke-width="0.13" >38</text>
<line x1="149.2" y1="352.4" x2="149.2" y2="354.2" stroke="#a6a6a6" stroke-width="0.6" />
<text x="149.2" y="356.7" font-size="3.4" text-anchor="middle" dominant-baseline="central" fill="#444" font-family="Liberation Sans" stroke="#444" stroke-width="0.12" >20</text>
<text x="149.2" y="335.6" font-size="3.6" text-anchor="middle" dominant-baseline="central" fill="#222" font-family="Liberation Sans" stroke="#222" stroke-width="0.13" >12</text>
<text x="149.2" y="347" font-size="3.6" text-anchor="middle" dominant-baseline="central" fill="#222" font-family="Liberation Sans" stroke="#222" stroke-width="0.13" >20</text>
<line x1="205.35" y1="352.4" x2="205.35" y2="354.2" stroke="#a6a6a6" stroke-width="0.6" />
<text x="205.35" y="356.7" font-size="3.4" text-anchor="middle" dominant-baseline="central" fill="#444" font-family="Liberation Sans" stroke="#444" stroke-width="0.12" >30</text>
<text x="205.35" y="335.6" font-size="3.6" text-anchor="middle" dominant-baseline="central" fill="#222" font-family="Liberation Sans" stroke="#222" stroke-width="0.13" >5</text>
<text x="205.35" y="347" font-size="3.6" text-anchor="middle" dominant-baseline="central" fill="#222" font-family="Liberation Sans" stroke="#222" stroke-width="0.13" >8</text>
<line x1="261.5" y1="352.4" x2="261.5" y2="354.2" stroke="#a6a6a6" stroke-width="0.6" />
<text x="261.5" y="356.7" font-size="3.4" text-anchor="middle" dominant-baseline="central" fill="#444" font-family="Liberation Sans" stroke="#444" stroke-width="0.12" >40</text>
<text x="261.5" y="335.6" font-size="3.6" text-anchor="middle" dominant-baseline="central" fill="#222" font-family="Liberation Sans" stroke="#222" stroke-width="0.13" >1</text>
<text x="261.5" y="347" font-size="3.6" text-anchor="middle" dominant-baseline="central" fill="#222" font-family="Liberation Sans" stroke="#222" stroke-width="0.13" >1</text>
<text x="149.1" y="361" font-size="4.2" text-anchor="middle" dominant-baseline="central" fill="#111" font-family="Liberation Sans" stroke="#111" stroke-width="0.15" >Follow up time(month)</text>
</g>
<g>
<path d="M380.4 191.3 H464.4 V191.3 H531.8 V191.3 H543 V290 H531.8 V231.6 H464.4 V215.8 H380.4 Z" fill="rgba(255,120,120,0.30)"/>
<path d="M335.7 191.3 H346.8 V191.3 H352.6 V191.3 H369.9 V198.7 H386.1 V206.2 H391.8 V211.2 H408.7 V215.5 H413.8 V220.6 H430.6 V225.7 H436.5 V243 H487.4 V245.8 H509.4 V295.5 H487.4 V288.4 H436.5 V275.4 H430.6 V270.2 H413.8 V265.1 H408.7 V260 H391.8 V254 H386.1 V242.5 H369.9 V229.3 H352.6 V221.3 H346.8 V214.3 H335.7 Z" fill="rgba(0,204,214,0.41)"/>
<line x1="307.8" y1="246.5" x2="531.8" y2="246.5" stroke="#999" stroke-width="0.5" stroke-dasharray="1.4,0.7"/>
<line x1="414.5" y1="246.5" x2="414.5" y2="301.7" stroke="#999" stroke-width="0.5" stroke-dasharray="1.4,0.7"/>
<line x1="531.8" y1="246.5" x2="531.8" y2="301.7" stroke="#999" stroke-width="0.5" stroke-dasharray="1.4,0.7"/>
<path d="M308 191.3 H380.4 V200.4 H464.4 V210.4 H531.8 V256 H543" fill="none" stroke="#F9857F" stroke-width="0.6"/>
<path d="M308 191.3 H335.7 V201.6 H346.8 V207 H352.6 V212 H369.9 V223.6 H386.1 V234.6 H391.8 V239.8 H409.2 V245.5 H414.5 V251.5 H430.6 V257.6 H436.5 V273.7 H487.4 V283.2 H509.4" fill="none" stroke="#00C2C8" stroke-width="1.0"/>
<path d="M452.1 200.4H454.1M453.1 199.4V201.4" stroke="#F9857F" stroke-width="0.6"/>
<path d="M474.6 210.4H476.6M475.6 209.4V211.4" stroke="#F9857F" stroke-width="0.6"/>
<path d="M480 210.4H482M481 209.4V211.4" stroke="#F9857F" stroke-width="0.6"/>
<path d="M491.8 210.4H493.8M492.8 209.4V211.4" stroke="#F9857F" stroke-width="0.6"/>
<path d="M502.9 210.4H504.9M503.9 209.4V211.4" stroke="#F9857F" stroke-width="0.6"/>
<path d="M541.5 256H543.5M542.5 255V257" stroke="#F9857F" stroke-width="0.6"/>
<path d="M463.3 273.7H465.5M464.4 272.6V274.8" stroke="#00C2C8" stroke-width="0.9"/>
<path d="M479.9 273.7H482.1M481 272.6V274.8" stroke="#00C2C8" stroke-width="0.9"/>
<path d="M491.7 283.2H493.9M492.8 282.1V284.3" stroke="#00C2C8" stroke-width="0.9"/>
<path d="M508.3 283.2H510.5M509.4 282.1V284.3" stroke="#00C2C8" stroke-width="0.9"/>
<line x1="296.9" y1="185.7" x2="296.9" y2="306.9" stroke="#a6a6a6" stroke-width="0.9" />
<line x1="296.9" y1="306.9" x2="543" y2="306.9" stroke="#a6a6a6" stroke-width="0.9" />
<line x1="294.9" y1="191.3" x2="296.9" y2="191.3" stroke="#a6a6a6" stroke-width="0.6" />
<text x="294.3" y="192.2" font-size="3.2" text-anchor="end" dominant-baseline="central" fill="#222" font-family="Liberation Sans" stroke="#222" stroke-width="0.11" >1.00</text>
<line x1="294.9" y1="218.9" x2="296.9" y2="218.9" stroke="#a6a6a6" stroke-width="0.6" />
<text x="294.3" y="219.8" font-size="3.2" text-anchor="end" dominant-baseline="central" fill="#222" font-family="Liberation Sans" stroke="#222" stroke-width="0.11" >0.75</text>
<line x1="294.9" y1="246.5" x2="296.9" y2="246.5" stroke="#a6a6a6" stroke-width="0.6" />
<text x="294.3" y="247.4" font-size="3.2" text-anchor="end" dominant-baseline="central" fill="#222" font-family="Liberation Sans" stroke="#222" stroke-width="0.11" >0.50</text>
<line x1="294.9" y1="274.1" x2="296.9" y2="274.1" stroke="#a6a6a6" stroke-width="0.6" />
<text x="294.3" y="275" font-size="3.2" text-anchor="end" dominant-baseline="central" fill="#222" font-family="Liberation Sans" stroke="#222" stroke-width="0.11" >0.25</text>
<line x1="294.9" y1="301.7" x2="296.9" y2="301.7" stroke="#a6a6a6" stroke-width="0.6" />
<text x="294.3" y="302.6" font-size="3.2" text-anchor="end" dominant-baseline="central" fill="#222" font-family="Liberation Sans" stroke="#222" stroke-width="0.11" >0.00</text>
<line x1="307.8" y1="306.9" x2="307.8" y2="308.7" stroke="#a6a6a6" stroke-width="0.6" />
<text x="307.8" y="311.6" font-size="3.4" text-anchor="middle" dominant-baseline="central" fill="#444" font-family="Liberation Sans" stroke="#444" stroke-width="0.12" >0</text>
<line x1="363.75" y1="306.9" x2="363.75" y2="308.7" stroke="#a6a6a6" stroke-width="0.6" />
<text x="363.75" y="311.6" font-size="3.4" text-anchor="middle" dominant-baseline="central" fill="#444" font-family="Liberation Sans" stroke="#444" stroke-width="0.12" >10</text>
<line x1="419.7" y1="306.9" x2="419.7" y2="308.7" stroke="#a6a6a6" stroke-width="0.6" />
<text x="419.7" y="311.6" font-size="3.4" text-anchor="middle" dominant-baseline="central" fill="#444" font-family="Liberation Sans" stroke="#444" stroke-width="0.12" >20</text>
<line x1="475.65" y1="306.9" x2="475.65" y2="308.7" stroke="#a6a6a6" stroke-width="0.6" />
<text x="475.65" y="311.6" font-size="3.4" text-anchor="middle" dominant-baseline="central" fill="#444" font-family="Liberation Sans" stroke="#444" stroke-width="0.12" >30</text>
<line x1="531.6" y1="306.9" x2="531.6" y2="308.7" stroke="#a6a6a6" stroke-width="0.6" />
<text x="531.6" y="311.6" font-size="3.4" text-anchor="middle" dominant-baseline="central" fill="#444" font-family="Liberation Sans" stroke="#444" stroke-width="0.12" >40</text>
<text x="419.95" y="315.7" font-size="4.2" text-anchor="middle" dominant-baseline="central" fill="#111" font-family="Liberation Sans" stroke="#111" stroke-width="0.15" >Follow up time(month)</text>
<text x="279.2" y="191.9" font-size="8.0" text-anchor="start" dominant-baseline="central" fill="#1a1a1a" font-family="Liberation Serif" font-weight="bold">D</text>
<text x="0" y="0" transform="translate(280.3,253.2) rotate(-90)" font-size="7.0" text-anchor="middle" dominant-baseline="central" fill="#000" stroke="#000" stroke-width="0.1" font-family="Liberation Serif">Progression Free Survival</text>
<text x="312.2" y="280.1" font-size="4.3" text-anchor="start" dominant-baseline="central" fill="#000" font-family="Liberation Sans" stroke="#000" stroke-width="0.15" >p = 0.00085</text>
<rect x="521.8" y="184.9" width="21.4" height="14.7" fill="#fff"/>
<rect x="524.4" y="188.6" width="4.5" height="3.4" fill="rgba(255,120,120,0.30)"/>
<line x1="524.4" y1="190.3" x2="528.9" y2="190.3" stroke="#F8766D" stroke-width="0.6" />
<text x="530.5" y="191.2" font-size="2.9" text-anchor="start" dominant-baseline="central" fill="#333" font-family="Liberation Sans" stroke="#333" stroke-width="0.1" >Low risk</text>
<rect x="524.4" y="193.6" width="4.5" height="3.4" fill="rgba(0,204,214,0.41)"/>
<line x1="524.4" y1="195.3" x2="528.9" y2="195.3" stroke="#00C2C8" stroke-width="0.8" />
<text x="530.5" y="196.2" font-size="2.9" text-anchor="start" dominant-baseline="central" fill="#333" font-family="Liberation Sans" stroke="#333" stroke-width="0.1" >High risk</text>
<text x="296.9" y="324.3" font-size="4.5" text-anchor="start" dominant-baseline="central" fill="#111" font-family="Liberation Sans" stroke="#111" stroke-width="0.16" >Number at risk</text>
<line x1="296.9" y1="327.6" x2="296.9" y2="352.1" stroke="#a6a6a6" stroke-width="0.9" />
<line x1="296.9" y1="352.1" x2="543" y2="352.1" stroke="#a6a6a6" stroke-width="0.9" />
<line x1="294.9" y1="334.4" x2="296.9" y2="334.4" stroke="#a6a6a6" stroke-width="0.6" />
<text x="294.3" y="335.3" font-size="3.4" text-anchor="end" dominant-baseline="central" fill="#F8766D" font-family="Liberation Sans" stroke="#F8766D" stroke-width="0.12" >Low risk</text>
<line x1="294.9" y1="345.8" x2="296.9" y2="345.8" stroke="#a6a6a6" stroke-width="0.6" />
<text x="294.3" y="346.7" font-size="3.4" text-anchor="end" dominant-baseline="central" fill="#00C2C8" font-family="Liberation Sans" stroke="#00C2C8" stroke-width="0.12" >High risk</text>
<line x1="307.8" y1="352.1" x2="307.8" y2="353.9" stroke="#a6a6a6" stroke-width="0.6" />
<text x="307.8" y="356.4" font-size="3.4" text-anchor="middle" dominant-baseline="central" fill="#444" font-family="Liberation Sans" stroke="#444" stroke-width="0.12" >0</text>
<text x="307.8" y="335.3" font-size="3.6" text-anchor="middle" dominant-baseline="central" fill="#222" font-family="Liberation Sans" stroke="#222" stroke-width="0.13" >12</text>
<text x="307.8" y="346.7" font-size="3.6" text-anchor="middle" dominant-baseline="central" fill="#222" font-family="Liberation Sans" stroke="#222" stroke-width="0.13" >21</text>
<line x1="363.75" y1="352.1" x2="363.75" y2="353.9" stroke="#a6a6a6" stroke-width="0.6" />
<text x="363.75" y="356.4" font-size="3.4" text-anchor="middle" dominant-baseline="central" fill="#444" font-family="Liberation Sans" stroke="#444" stroke-width="0.12" >10</text>
<text x="363.75" y="335.3" font-size="3.6" text-anchor="middle" dominant-baseline="central" fill="#222" font-family="Liberation Sans" stroke="#222" stroke-width="0.13" >12</text>
<text x="363.75" y="346.7" font-size="3.6" text-anchor="middle" dominant-baseline="central" fill="#222" font-family="Liberation Sans" stroke="#222" stroke-width="0.13" >16</text>
<line x1="419.7" y1="352.1" x2="419.7" y2="353.9" stroke="#a6a6a6" stroke-width="0.6" />
<text x="419.7" y="356.4" font-size="3.4" text-anchor="middle" dominant-baseline="central" fill="#444" font-family="Liberation Sans" stroke="#444" stroke-width="0.12" >20</text>
<text x="419.7" y="335.3" font-size="3.6" text-anchor="middle" dominant-baseline="central" fill="#222" font-family="Liberation Sans" stroke="#222" stroke-width="0.13" >11</text>
<text x="419.7" y="346.7" font-size="3.6" text-anchor="middle" dominant-baseline="central" fill="#222" font-family="Liberation Sans" stroke="#222" stroke-width="0.13" >9</text>
<line x1="475.65" y1="352.1" x2="475.65" y2="353.9" stroke="#a6a6a6" stroke-width="0.6" />
<text x="475.65" y="356.4" font-size="3.4" text-anchor="middle" dominant-baseline="central" fill="#444" font-family="Liberation Sans" stroke="#444" stroke-width="0.12" >30</text>
<text x="475.65" y="335.3" font-size="3.6" text-anchor="middle" dominant-baseline="central" fill="#222" font-family="Liberation Sans" stroke="#222" stroke-width="0.13" >9</text>
<text x="475.65" y="346.7" font-size="3.6" text-anchor="middle" dominant-baseline="central" fill="#222" font-family="Liberation Sans" stroke="#222" stroke-width="0.13" >4</text>
<line x1="531.6" y1="352.1" x2="531.6" y2="353.9" stroke="#a6a6a6" stroke-width="0.6" />
<text x="531.6" y="356.4" font-size="3.4" text-anchor="middle" dominant-baseline="central" fill="#444" font-family="Liberation Sans" stroke="#444" stroke-width="0.12" >40</text>
<text x="531.6" y="335.3" font-size="3.6" text-anchor="middle" dominant-baseline="central" fill="#222" font-family="Liberation Sans" stroke="#222" stroke-width="0.13" >2</text>
<text x="531.6" y="346.7" font-size="3.6" text-anchor="middle" dominant-baseline="central" fill="#222" font-family="Liberation Sans" stroke="#222" stroke-width="0.13" >0</text>
<text x="419.95" y="360.7" font-size="4.2" text-anchor="middle" dominant-baseline="central" fill="#111" font-family="Liberation Sans" stroke="#111" stroke-width="0.15" >Follow up time(month)</text>
</g>
<g>
<path d="M166 368.4 H193.7 V368.4 H272.3 V410 H193.7 V393.9 H166 Z" fill="rgba(255,120,120,0.30)"/>
<path d="M54 368.4 H65 V368.4 H70.8 V368.4 H76 V373.8 H81.6 V378.3 H87.5 V380.2 H98.2 V384.5 H110 V393.9 H115.4 V404.1 H121.1 V407.3 H137.4 V409.8 H143.4 V412.4 H160.5 V416.3 H165.3 V419.3 H216.1 V422 H260.7 V461.8 H216.1 V454.4 H165.3 V450.9 H160.5 V447.4 H143.4 V444.2 H137.4 V441.6 H121.1 V438.5 H115.4 V427.6 H110 V415.3 H98.2 V409.2 H87.5 V406 H81.6 V399.9 H76 V388.4 H70.8 V385 H65 V375.8 H54 Z" fill="rgba(0,204,214,0.41)"/>
<line x1="36.9" y1="423.6" x2="115.4" y2="423.6" stroke="#999" stroke-width="0.5" stroke-dasharray="1.4,0.7"/>
<line x1="115.4" y1="423.6" x2="115.4" y2="478.8" stroke="#999" stroke-width="0.5" stroke-dasharray="1.4,0.7"/>
<path d="M37 368.4 H166 V379.3 H193.7 V389.7 H272.3" fill="none" stroke="#F9857F" stroke-width="0.6"/>
<path d="M37 368.4 H54 V371.2 H65 V376.9 H70.8 V379.9 H76 V387.7 H81.6 V393 H87.5 V395.8 H98.2 V401.3 H110 V412.4 H115.4 V424.2 H121.1 V427 H137.4 V429.8 H143.4 V433.1 H160.5 V436.5 H165.3 V441 H216.1 V448.1 H260.7 V477.5 H260.7" fill="none" stroke="#00C2C8" stroke-width="1.0"/>
<path d="M131 368.4H133M132 367.4V369.4" stroke="#F9857F" stroke-width="0.6"/>
<path d="M142 368.4H144M143 367.4V369.4" stroke="#F9857F" stroke-width="0.6"/>
<path d="M159 368.4H161M160 367.4V369.4" stroke="#F9857F" stroke-width="0.6"/>
<path d="M175.9 379.3H177.9M176.9 378.3V380.3" stroke="#F9857F" stroke-width="0.6"/>
<path d="M181.6 379.3H183.6M182.6 378.3V380.3" stroke="#F9857F" stroke-width="0.6"/>
<path d="M187.4 379.3H189.4M188.4 378.3V380.3" stroke="#F9857F" stroke-width="0.6"/>
<path d="M203.6 389.7H205.6M204.6 388.7V390.7" stroke="#F9857F" stroke-width="0.6"/>
<path d="M209.4 389.7H211.4M210.4 388.7V390.7" stroke="#F9857F" stroke-width="0.6"/>
<path d="M220.9 389.7H222.9M221.9 388.7V390.7" stroke="#F9857F" stroke-width="0.6"/>
<path d="M232 389.7H234M233 388.7V390.7" stroke="#F9857F" stroke-width="0.6"/>
<path d="M270.5 389.7H272.5M271.5 388.7V390.7" stroke="#F9857F" stroke-width="0.6"/>
<path d="M47.2 368.4H49.4M48.3 367.3V369.5" stroke="#00C2C8" stroke-width="0.9"/>
<path d="M103.1 401.3H105.3M104.2 400.2V402.4" stroke="#00C2C8" stroke-width="0.9"/>
<path d="M137.2 429.8H139.4M138.3 428.7V430.9" stroke="#00C2C8" stroke-width="0.9"/>
<path d="M169.9 441H172.1M171 439.9V442.1" stroke="#00C2C8" stroke-width="0.9"/>
<path d="M181.5 441H183.7M182.6 439.9V442.1" stroke="#00C2C8" stroke-width="0.9"/>
<path d="M187.3 441H189.5M188.4 439.9V442.1" stroke="#00C2C8" stroke-width="0.9"/>
<path d="M220.8 448.1H223M221.9 447V449.2" stroke="#00C2C8" stroke-width="0.9"/>
<path d="M237.4 448.1H239.6M238.5 447V449.2" stroke="#00C2C8" stroke-width="0.9"/>
<line x1="26.2" y1="362.8" x2="26.2" y2="484" stroke="#a6a6a6" stroke-width="0.9" />
<line x1="26.2" y1="484" x2="272" y2="484" stroke="#a6a6a6" stroke-width="0.9" />
<line x1="24.2" y1="368.4" x2="26.2" y2="368.4" stroke="#a6a6a6" stroke-width="0.6" />
<text x="23.6" y="369.3" font-size="3.2" text-anchor="end" dominant-baseline="central" fill="#222" font-family="Liberation Sans" stroke="#222" stroke-width="0.11" >1.00</text>
<line x1="24.2" y1="396" x2="26.2" y2="396" stroke="#a6a6a6" stroke-width="0.6" />
<text x="23.6" y="396.9" font-size="3.2" text-anchor="end" dominant-baseline="central" fill="#222" font-family="Liberation Sans" stroke="#222" stroke-width="0.11" >0.75</text>
<line x1="24.2" y1="423.6" x2="26.2" y2="423.6" stroke="#a6a6a6" stroke-width="0.6" />
<text x="23.6" y="424.5" font-size="3.2" text-anchor="end" dominant-baseline="central" fill="#222" font-family="Liberation Sans" stroke="#222" stroke-width="0.11" >0.50</text>
<line x1="24.2" y1="451.2" x2="26.2" y2="451.2" stroke="#a6a6a6" stroke-width="0.6" />
<text x="23.6" y="452.1" font-size="3.2" text-anchor="end" dominant-baseline="central" fill="#222" font-family="Liberation Sans" stroke="#222" stroke-width="0.11" >0.25</text>
<line x1="24.2" y1="478.8" x2="26.2" y2="478.8" stroke="#a6a6a6" stroke-width="0.6" />
<text x="23.6" y="479.7" font-size="3.2" text-anchor="end" dominant-baseline="central" fill="#222" font-family="Liberation Sans" stroke="#222" stroke-width="0.11" >0.00</text>
<line x1="36.9" y1="484" x2="36.9" y2="485.8" stroke="#a6a6a6" stroke-width="0.6" />
<text x="36.9" y="488.7" font-size="3.4" text-anchor="middle" dominant-baseline="central" fill="#444" font-family="Liberation Sans" stroke="#444" stroke-width="0.12" >0</text>
<line x1="93.05" y1="484" x2="93.05" y2="485.8" stroke="#a6a6a6" stroke-width="0.6" />
<text x="93.05" y="488.7" font-size="3.4" text-anchor="middle" dominant-baseline="central" fill="#444" font-family="Liberation Sans" stroke="#444" stroke-width="0.12" >10</text>
<line x1="149.2" y1="484" x2="149.2" y2="485.8" stroke="#a6a6a6" stroke-width="0.6" />
<text x="149.2" y="488.7" font-size="3.4" text-anchor="middle" dominant-baseline="central" fill="#444" font-family="Liberation Sans" stroke="#444" stroke-width="0.12" >20</text>
<line x1="205.35" y1="484" x2="205.35" y2="485.8" stroke="#a6a6a6" stroke-width="0.6" />
<text x="205.35" y="488.7" font-size="3.4" text-anchor="middle" dominant-baseline="central" fill="#444" font-family="Liberation Sans" stroke="#444" stroke-width="0.12" >30</text>
<line x1="261.5" y1="484" x2="261.5" y2="485.8" stroke="#a6a6a6" stroke-width="0.6" />
<text x="261.5" y="488.7" font-size="3.4" text-anchor="middle" dominant-baseline="central" fill="#444" font-family="Liberation Sans" stroke="#444" stroke-width="0.12" >40</text>
<text x="149.1" y="492.8" font-size="4.2" text-anchor="middle" dominant-baseline="central" fill="#111" font-family="Liberation Sans" stroke="#111" stroke-width="0.15" >Follow up time(month)</text>
<text x="8.7" y="369.1" font-size="8.0" text-anchor="start" dominant-baseline="central" fill="#1a1a1a" font-family="Liberation Serif" font-weight="bold">E</text>
<text x="0" y="0" transform="translate(10.3,429.7) rotate(-90)" font-size="7.0" text-anchor="middle" dominant-baseline="central" fill="#000" stroke="#000" stroke-width="0.1" font-family="Liberation Serif">Progression Free Survival</text>
<text x="41.6" y="456.7" font-size="4.3" text-anchor="start" dominant-baseline="central" fill="#000" font-family="Liberation Sans" stroke="#000" stroke-width="0.15" >p = 0.0001</text>
<rect x="251" y="362.4" width="21.4" height="14.7" fill="#fff"/>
<rect x="253.6" y="366.1" width="4.5" height="3.4" fill="rgba(255,120,120,0.30)"/>
<line x1="253.6" y1="367.8" x2="258.1" y2="367.8" stroke="#F8766D" stroke-width="0.6" />
<text x="259.7" y="368.7" font-size="2.9" text-anchor="start" dominant-baseline="central" fill="#333" font-family="Liberation Sans" stroke="#333" stroke-width="0.1" >Low risk</text>
<rect x="253.6" y="371.1" width="4.5" height="3.4" fill="rgba(0,204,214,0.41)"/>
<line x1="253.6" y1="372.8" x2="258.1" y2="372.8" stroke="#00C2C8" stroke-width="0.8" />
<text x="259.7" y="373.7" font-size="2.9" text-anchor="start" dominant-baseline="central" fill="#333" font-family="Liberation Sans" stroke="#333" stroke-width="0.1" >High risk</text>
<text x="26.2" y="501.4" font-size="4.5" text-anchor="start" dominant-baseline="central" fill="#111" font-family="Liberation Sans" stroke="#111" stroke-width="0.16" >Number at risk</text>
<line x1="26.2" y1="504.7" x2="26.2" y2="529.2" stroke="#a6a6a6" stroke-width="0.9" />
<line x1="26.2" y1="529.2" x2="272" y2="529.2" stroke="#a6a6a6" stroke-width="0.9" />
<line x1="24.2" y1="511.5" x2="26.2" y2="511.5" stroke="#a6a6a6" stroke-width="0.6" />
<text x="23.6" y="512.4" font-size="3.4" text-anchor="end" dominant-baseline="central" fill="#F8766D" font-family="Liberation Sans" stroke="#F8766D" stroke-width="0.12" >Low risk</text>
<line x1="24.2" y1="522.9" x2="26.2" y2="522.9" stroke="#a6a6a6" stroke-width="0.6" />
<text x="23.6" y="523.8" font-size="3.4" text-anchor="end" dominant-baseline="central" fill="#00C2C8" font-family="Liberation Sans" stroke="#00C2C8" stroke-width="0.12" >High risk</text>
<line x1="36.9" y1="529.2" x2="36.9" y2="531" stroke="#a6a6a6" stroke-width="0.6" />
<text x="36.9" y="533.5" font-size="3.4" text-anchor="middle" dominant-baseline="central" fill="#444" font-family="Liberation Sans" stroke="#444" stroke-width="0.12" >0</text>
<text x="36.9" y="512.4" font-size="3.6" text-anchor="middle" dominant-baseline="central" fill="#222" font-family="Liberation Sans" stroke="#222" stroke-width="0.13" >24</text>
<text x="36.9" y="523.8" font-size="3.6" text-anchor="middle" dominant-baseline="central" fill="#222" font-family="Liberation Sans" stroke="#222" stroke-width="0.13" >41</text>
<line x1="93.05" y1="529.2" x2="93.05" y2="531" stroke="#a6a6a6" stroke-width="0.6" />
<text x="93.05" y="533.5" font-size="3.4" text-anchor="middle" dominant-baseline="central" fill="#444" font-family="Liberation Sans" stroke="#444" stroke-width="0.12" >10</text>
<text x="93.05" y="512.4" font-size="3.6" text-anchor="middle" dominant-baseline="central" fill="#222" font-family="Liberation Sans" stroke="#222" stroke-width="0.13" >24</text>
<text x="93.05" y="523.8" font-size="3.6" text-anchor="middle" dominant-baseline="central" fill="#222" font-family="Liberation Sans" stroke="#222" stroke-width="0.13" >30</text>
<line x1="149.2" y1="529.2" x2="149.2" y2="531" stroke="#a6a6a6" stroke-width="0.6" />
<text x="149.2" y="533.5" font-size="3.4" text-anchor="middle" dominant-baseline="central" fill="#444" font-family="Liberation Sans" stroke="#444" stroke-width="0.12" >20</text>
<text x="149.2" y="512.4" font-size="3.6" text-anchor="middle" dominant-baseline="central" fill="#222" font-family="Liberation Sans" stroke="#222" stroke-width="0.13" >20</text>
<text x="149.2" y="523.8" font-size="3.6" text-anchor="middle" dominant-baseline="central" fill="#222" font-family="Liberation Sans" stroke="#222" stroke-width="0.13" >12</text>
<line x1="205.35" y1="529.2" x2="205.35" y2="531" stroke="#a6a6a6" stroke-width="0.6" />
<text x="205.35" y="533.5" font-size="3.4" text-anchor="middle" dominant-baseline="central" fill="#444" font-family="Liberation Sans" stroke="#444" stroke-width="0.12" >30</text>
<text x="205.35" y="512.4" font-size="3.6" text-anchor="middle" dominant-baseline="central" fill="#222" font-family="Liberation Sans" stroke="#222" stroke-width="0.13" >8</text>
<text x="205.35" y="523.8" font-size="3.6" text-anchor="middle" dominant-baseline="central" fill="#222" font-family="Liberation Sans" stroke="#222" stroke-width="0.13" >5</text>
<line x1="261.5" y1="529.2" x2="261.5" y2="531" stroke="#a6a6a6" stroke-width="0.6" />
<text x="261.5" y="533.5" font-size="3.4" text-anchor="middle" dominant-baseline="central" fill="#444" font-family="Liberation Sans" stroke="#444" stroke-width="0.12" >40</text>
<text x="261.5" y="512.4" font-size="3.6" text-anchor="middle" dominant-baseline="central" fill="#222" font-family="Liberation Sans" stroke="#222" stroke-width="0.13" >1</text>
<text x="261.5" y="523.8" font-size="3.6" text-anchor="middle" dominant-baseline="central" fill="#222" font-family="Liberation Sans" stroke="#222" stroke-width="0.13" >1</text>
<text x="149.1" y="537.8" font-size="4.2" text-anchor="middle" dominant-baseline="central" fill="#111" font-family="Liberation Sans" stroke="#111" stroke-width="0.15" >Follow up time(month)</text>
</g>
<g>
<path d="M436.5 367.7 H464.4 V367.7 H543 V415.9 H464.4 V404.1 H436.5 Z" fill="rgba(255,120,120,0.30)"/>
<path d="M335.7 367.7 H346.8 V367.7 H352.6 V367.7 H369.9 V375.8 H380.4 V380.2 H386.3 V389 H391.6 V394.2 H409 V399.4 H414.3 V404.7 H430.7 V410.8 H436.7 V416.6 H487.4 V423 H531.6 V467.9 H487.4 V464.1 H436.7 V460.5 H430.7 V455.3 H414.3 V450 H409 V445.7 H391.6 V439.6 H386.3 V428.2 H380.4 V422.3 H369.9 V409 H352.6 V401.3 H346.8 V393.2 H335.7 Z" fill="rgba(0,204,214,0.41)"/>
<line x1="307.8" y1="422.9" x2="391.8" y2="422.9" stroke="#999" stroke-width="0.5" stroke-dasharray="1.4,0.7"/>
<line x1="391.8" y1="422.9" x2="391.8" y2="478.1" stroke="#999" stroke-width="0.5" stroke-dasharray="1.4,0.7"/>
<path d="M308 367.7 H436.5 V384.5 H464.4 V393.9 H543" fill="none" stroke="#F9857F" stroke-width="0.6"/>
<path d="M308 367.7 H335.7 V379.3 H346.8 V385.1 H352.6 V390.9 H369.9 V402.2 H380.4 V408.2 H386.3 V421.2 H391.6 V425.6 H409 V431.2 H414.3 V437.2 H430.7 V443.2 H436.7 V448.7 H487.4 V454.9 H531.6 V477.8 H531.6" fill="none" stroke="#00C2C8" stroke-width="1.0"/>
<path d="M345.5 367.7H347.5M346.5 366.7V368.7" stroke="#F9857F" stroke-width="0.6"/>
<path d="M452.1 384.5H454.1M453.1 383.5V385.5" stroke="#F9857F" stroke-width="0.6"/>
<path d="M474.6 393.9H476.6M475.6 392.9V394.9" stroke="#F9857F" stroke-width="0.6"/>
<path d="M480 393.9H482M481 392.9V394.9" stroke="#F9857F" stroke-width="0.6"/>
<path d="M491.8 393.9H493.8M492.8 392.9V394.9" stroke="#F9857F" stroke-width="0.6"/>
<path d="M502.9 393.9H504.9M503.9 392.9V394.9" stroke="#F9857F" stroke-width="0.6"/>
<path d="M541.5 393.9H543.5M542.5 392.9V394.9" stroke="#F9857F" stroke-width="0.6"/>
<path d="M491.7 454.9H493.9M492.8 453.8V456" stroke="#00C2C8" stroke-width="0.9"/>
<path d="M508.3 454.9H510.5M509.4 453.8V456" stroke="#00C2C8" stroke-width="0.9"/>
<line x1="296.9" y1="362.1" x2="296.9" y2="483.3" stroke="#a6a6a6" stroke-width="0.9" />
<line x1="296.9" y1="483.3" x2="543" y2="483.3" stroke="#a6a6a6" stroke-width="0.9" />
<line x1="294.9" y1="367.7" x2="296.9" y2="367.7" stroke="#a6a6a6" stroke-width="0.6" />
<text x="294.3" y="368.6" font-size="3.2" text-anchor="end" dominant-baseline="central" fill="#222" font-family="Liberation Sans" stroke="#222" stroke-width="0.11" >1.00</text>
<line x1="294.9" y1="395.3" x2="296.9" y2="395.3" stroke="#a6a6a6" stroke-width="0.6" />
<text x="294.3" y="396.2" font-size="3.2" text-anchor="end" dominant-baseline="central" fill="#222" font-family="Liberation Sans" stroke="#222" stroke-width="0.11" >0.75</text>
<line x1="294.9" y1="422.9" x2="296.9" y2="422.9" stroke="#a6a6a6" stroke-width="0.6" />
<text x="294.3" y="423.8" font-size="3.2" text-anchor="end" dominant-baseline="central" fill="#222" font-family="Liberation Sans" stroke="#222" stroke-width="0.11" >0.50</text>
<line x1="294.9" y1="450.5" x2="296.9" y2="450.5" stroke="#a6a6a6" stroke-width="0.6" />
<text x="294.3" y="451.4" font-size="3.2" text-anchor="end" dominant-baseline="central" fill="#222" font-family="Liberation Sans" stroke="#222" stroke-width="0.11" >0.25</text>
<line x1="294.9" y1="478.1" x2="296.9" y2="478.1" stroke="#a6a6a6" stroke-width="0.6" />
<text x="294.3" y="479" font-size="3.2" text-anchor="end" dominant-baseline="central" fill="#222" font-family="Liberation Sans" stroke="#222" stroke-width="0.11" >0.00</text>
<line x1="307.8" y1="483.3" x2="307.8" y2="485.1" stroke="#a6a6a6" stroke-width="0.6" />
<text x="307.8" y="488" font-size="3.4" text-anchor="middle" dominant-baseline="central" fill="#444" font-family="Liberation Sans" stroke="#444" stroke-width="0.12" >0</text>
<line x1="363.75" y1="483.3" x2="363.75" y2="485.1" stroke="#a6a6a6" stroke-width="0.6" />
<text x="363.75" y="488" font-size="3.4" text-anchor="middle" dominant-baseline="central" fill="#444" font-family="Liberation Sans" stroke="#444" stroke-width="0.12" >10</text>
<line x1="419.7" y1="483.3" x2="419.7" y2="485.1" stroke="#a6a6a6" stroke-width="0.6" />
<text x="419.7" y="488" font-size="3.4" text-anchor="middle" dominant-baseline="central" fill="#444" font-family="Liberation Sans" stroke="#444" stroke-width="0.12" >20</text>
<line x1="475.65" y1="483.3" x2="475.65" y2="485.1" stroke="#a6a6a6" stroke-width="0.6" />
<text x="475.65" y="488" font-size="3.4" text-anchor="middle" dominant-baseline="central" fill="#444" font-family="Liberation Sans" stroke="#444" stroke-width="0.12" >30</text>
<line x1="531.6" y1="483.3" x2="531.6" y2="485.1" stroke="#a6a6a6" stroke-width="0.6" />
<text x="531.6" y="488" font-size="3.4" text-anchor="middle" dominant-baseline="central" fill="#444" font-family="Liberation Sans" stroke="#444" stroke-width="0.12" >40</text>
<text x="419.95" y="492.1" font-size="4.2" text-anchor="middle" dominant-baseline="central" fill="#111" font-family="Liberation Sans" stroke="#111" stroke-width="0.15" >Follow up time(month)</text>
<text x="279.5" y="367.1" font-size="8.0" text-anchor="start" dominant-baseline="central" fill="#1a1a1a" font-family="Liberation Serif" font-weight="bold">F</text>
<text x="0" y="0" transform="translate(280.1,429) rotate(-90)" font-size="7.0" text-anchor="middle" dominant-baseline="central" fill="#000" stroke="#000" stroke-width="0.1" font-family="Liberation Serif">Progression Free Survival</text>
<text x="312.2" y="456.1" font-size="4.3" text-anchor="start" dominant-baseline="central" fill="#000" font-family="Liberation Sans" stroke="#000" stroke-width="0.15" >p = 0.00051</text>
<rect x="521.8" y="361.4" width="21.4" height="14.7" fill="#fff"/>
<rect x="524.4" y="365.1" width="4.5" height="3.4" fill="rgba(255,120,120,0.30)"/>
<line x1="524.4" y1="366.8" x2="528.9" y2="366.8" stroke="#F8766D" stroke-width="0.6" />
<text x="530.5" y="367.7" font-size="2.9" text-anchor="start" dominant-baseline="central" fill="#333" font-family="Liberation Sans" stroke="#333" stroke-width="0.1" >Low risk</text>
<rect x="524.4" y="370.1" width="4.5" height="3.4" fill="rgba(0,204,214,0.41)"/>
<line x1="524.4" y1="371.8" x2="528.9" y2="371.8" stroke="#00C2C8" stroke-width="0.8" />
<text x="530.5" y="372.7" font-size="2.9" text-anchor="start" dominant-baseline="central" fill="#333" font-family="Liberation Sans" stroke="#333" stroke-width="0.1" >High risk</text>
<text x="296.9" y="500.7" font-size="4.5" text-anchor="start" dominant-baseline="central" fill="#111" font-family="Liberation Sans" stroke="#111" stroke-width="0.16" >Number at risk</text>
<line x1="296.9" y1="504" x2="296.9" y2="528.5" stroke="#a6a6a6" stroke-width="0.9" />
<line x1="296.9" y1="528.5" x2="543" y2="528.5" stroke="#a6a6a6" stroke-width="0.9" />
<line x1="294.9" y1="510.8" x2="296.9" y2="510.8" stroke="#a6a6a6" stroke-width="0.6" />
<text x="294.3" y="511.7" font-size="3.4" text-anchor="end" dominant-baseline="central" fill="#F8766D" font-family="Liberation Sans" stroke="#F8766D" stroke-width="0.12" >Low risk</text>
<line x1="294.9" y1="522.2" x2="296.9" y2="522.2" stroke="#a6a6a6" stroke-width="0.6" />
<text x="294.3" y="523.1" font-size="3.4" text-anchor="end" dominant-baseline="central" fill="#00C2C8" font-family="Liberation Sans" stroke="#00C2C8" stroke-width="0.12" >High risk</text>
<line x1="307.8" y1="528.5" x2="307.8" y2="530.3" stroke="#a6a6a6" stroke-width="0.6" />
<text x="307.8" y="532.8" font-size="3.4" text-anchor="middle" dominant-baseline="central" fill="#444" font-family="Liberation Sans" stroke="#444" stroke-width="0.12" >0</text>
<text x="307.8" y="511.7" font-size="3.6" text-anchor="middle" dominant-baseline="central" fill="#222" font-family="Liberation Sans" stroke="#222" stroke-width="0.13" >14</text>
<text x="307.8" y="523.1" font-size="3.6" text-anchor="middle" dominant-baseline="central" fill="#222" font-family="Liberation Sans" stroke="#222" stroke-width="0.13" >19</text>
<line x1="363.75" y1="528.5" x2="363.75" y2="530.3" stroke="#a6a6a6" stroke-width="0.6" />
<text x="363.75" y="532.8" font-size="3.4" text-anchor="middle" dominant-baseline="central" fill="#444" font-family="Liberation Sans" stroke="#444" stroke-width="0.12" >10</text>
<text x="363.75" y="511.7" font-size="3.6" text-anchor="middle" dominant-baseline="central" fill="#222" font-family="Liberation Sans" stroke="#222" stroke-width="0.13" >13</text>
<text x="363.75" y="523.1" font-size="3.6" text-anchor="middle" dominant-baseline="central" fill="#222" font-family="Liberation Sans" stroke="#222" stroke-width="0.13" >15</text>
<line x1="419.7" y1="528.5" x2="419.7" y2="530.3" stroke="#a6a6a6" stroke-width="0.6" />
<text x="419.7" y="532.8" font-size="3.4" text-anchor="middle" dominant-baseline="central" fill="#444" font-family="Liberation Sans" stroke="#444" stroke-width="0.12" >20</text>
<text x="419.7" y="511.7" font-size="3.6" text-anchor="middle" dominant-baseline="central" fill="#222" font-family="Liberation Sans" stroke="#222" stroke-width="0.13" >13</text>
<text x="419.7" y="523.1" font-size="3.6" text-anchor="middle" dominant-baseline="central" fill="#222" font-family="Liberation Sans" stroke="#222" stroke-width="0.13" >7</text>
<line x1="475.65" y1="528.5" x2="475.65" y2="530.3" stroke="#a6a6a6" stroke-width="0.6" />
<text x="475.65" y="532.8" font-size="3.4" text-anchor="middle" dominant-baseline="central" fill="#444" font-family="Liberation Sans" stroke="#444" stroke-width="0.12" >30</text>
<text x="475.65" y="511.7" font-size="3.6" text-anchor="middle" dominant-baseline="central" fill="#222" font-family="Liberation Sans" stroke="#222" stroke-width="0.13" >8</text>
<text x="475.65" y="523.1" font-size="3.6" text-anchor="middle" dominant-baseline="central" fill="#222" font-family="Liberation Sans" stroke="#222" stroke-width="0.13" >5</text>
<line x1="531.6" y1="528.5" x2="531.6" y2="530.3" stroke="#a6a6a6" stroke-width="0.6" />
<text x="531.6" y="532.8" font-size="3.4" text-anchor="middle" dominant-baseline="central" fill="#444" font-family="Liberation Sans" stroke="#444" stroke-width="0.12" >40</text>
<text x="531.6" y="511.7" font-size="3.6" text-anchor="middle" dominant-baseline="central" fill="#222" font-family="Liberation Sans" stroke="#222" stroke-width="0.13" >1</text>
<text x="531.6" y="523.1" font-size="3.6" text-anchor="middle" dominant-baseline="central" fill="#222" font-family="Liberation Sans" stroke="#222" stroke-width="0.13" >1</text>
<text x="419.95" y="537.1" font-size="4.2" text-anchor="middle" dominant-baseline="central" fill="#111" font-family="Liberation Sans" stroke="#111" stroke-width="0.15" >Follow up time(month)</text>
</g>
</svg></body></html>
